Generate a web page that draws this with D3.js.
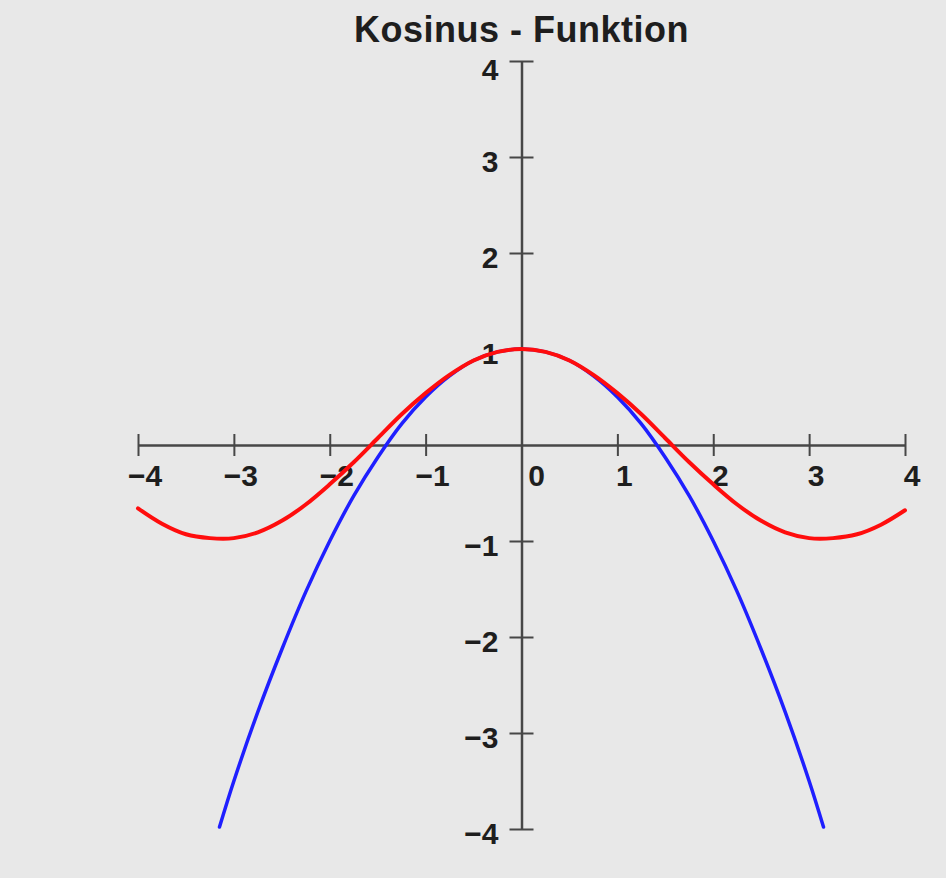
<!DOCTYPE html>
<html>
<head>
<meta charset="utf-8">
<script src="https://cdn.jsdelivr.net/npm/d3@7"></script>
<style>
	html, body { margin: 0; padding: 0; background: #e8e8e8; }
	svg { display: block; }
</style>
</head>
<body>
<div id="chart"></div>
<script>
// values

var TITLE = "Kosinus - Funktion";

var X_TICKS = [-4, -3, -2, -1, 0, 1, 2, 3, 4];
var Y_TICKS = [-4, -3, -2, -1, 1, 2, 3, 4];

// red curve (cosine)
var cos_x = [-4, -3.75, -3.5, -3.25, -3, -2.75, -2.5, -2.25, -2, -1.75, -1.5, -1.25, -1, -0.75, -0.5, -0.25,
	0, 0.25, 0.5, 0.75, 1, 1.25, 1.5, 1.75, 2, 2.25, 2.5, 2.75, 3, 3.25, 3.5, 3.75, 4];
var cos_y = [-0.66, -0.82, -0.93, -0.97, -0.97, -0.91, -0.79, -0.62, -0.41, -0.18, 0.07, 0.32, 0.54, 0.73, 0.88, 0.97,
	1, 0.97, 0.88, 0.73, 0.54, 0.32, 0.07, -0.18, -0.41, -0.62, -0.79, -0.91, -0.97, -0.97, -0.93, -0.83, -0.68];

// blue curve (parabola approximation)
var par_x = [-3.15, -3, -2.75, -2.5, -2.25, -2, -1.75, -1.5, -1.25, -1, -0.75, -0.5, -0.25,
	0, 0.25, 0.5, 0.75, 1, 1.25, 1.5, 1.75, 2, 2.25, 2.5, 2.75, 3, 3.15];
var par_y = [-3.98, -3.5, -2.78, -2.13, -1.53, -1.0, -0.53, -0.13, 0.22, 0.5, 0.72, 0.88, 0.97,
	1, 0.97, 0.88, 0.72, 0.5, 0.22, -0.13, -0.53, -1.0, -1.53, -2.13, -2.78, -3.5, -3.98];

var width = 946,
	height = 878,
	AXIS_COLOR = "#474747",
	TEXT_COLOR = "#1e1e1e",
	FONT = "'Liberation Sans', Arial, sans-serif";

var svg = d3.select("#chart").append("svg")
	.attr("width", width)
	.attr("height", height);

svg.append("rect")
	.attr("width", width)
	.attr("height", height)
	.style("fill", "#e8e8e8");

var x = d3.scaleLinear().domain([-4, 4]).range([138, 905]);
var y = d3.scaleLinear().domain([-4, 4]).range([829, 61]);

// title
svg.append("text")
	.attr("x", x(0))
	.attr("y", 42)
	.text(TITLE)
	.style("fill", TEXT_COLOR)
	.style("font-family", FONT)
	.style("font-weight", "bold")
	.style("font-size", "36px")
	.style("letter-spacing", "0.5px")
	.style("text-anchor", "middle");

// x axis
var xAxis = svg.append("g")
	.attr("transform", "translate(0," + y(0) + ")")
	.call(d3.axisBottom(x).tickValues(X_TICKS).tickSizeOuter(0).tickFormat(""));

xAxis.select(".domain").style("stroke", AXIS_COLOR).style("stroke-width", 2.5);
xAxis.selectAll(".tick line")
	.attr("y1", -11)
	.attr("y2", 11)
	.style("stroke", AXIS_COLOR)
	.style("stroke-width", 2);

svg.append("g").selectAll("text")
	.data(X_TICKS)
	.enter()
	.append("text")
	.attr("x", function(d) { return x(d) + (d == 0 ? 15 : 7); })
	.attr("y", y(0) + 41)
	.text(function(d) { return d < 0 ? "\u2212" + Math.abs(d) : d; })
	.style("fill", TEXT_COLOR)
	.style("font-family", FONT)
	.style("font-weight", "bold")
	.style("font-size", "30px")
	.style("text-anchor", "middle");

// y axis
var yAxis = svg.append("g")
	.attr("transform", "translate(" + x(0) + ",0)")
	.call(d3.axisLeft(y).tickValues(Y_TICKS).tickSizeOuter(0).tickFormat(""));

yAxis.select(".domain").style("stroke", AXIS_COLOR).style("stroke-width", 2.5);
yAxis.selectAll(".tick line")
	.attr("x1", -12)
	.attr("x2", 12)
	.style("stroke", AXIS_COLOR)
	.style("stroke-width", 2);

svg.append("g").selectAll("text")
	.data(Y_TICKS)
	.enter()
	.append("text")
	.attr("x", x(0) - 23)
	.attr("y", function(d) { return y(d) + (d == 4 ? 19 : 15); })
	.text(function(d) { return d < 0 ? "\u2212" + Math.abs(d) : d; })
	.style("fill", TEXT_COLOR)
	.style("font-family", FONT)
	.style("font-weight", "bold")
	.style("font-size", "30px")
	.style("text-anchor", "end");

// curves
var line = d3.line()
	.x(function(d) { return x(d[0]); })
	.y(function(d) { return y(d[1]); })
	.curve(d3.curveCatmullRom);

svg.append("path")
	.attr("d", line(d3.zip(par_x, par_y)))
	.style("fill", "none")
	.style("stroke", "#1f1fff")
	.style("stroke-width", 3.5)
	.style("stroke-linecap", "round");

svg.append("path")
	.attr("d", line(d3.zip(cos_x, cos_y)))
	.style("fill", "none")
	.style("stroke", "#ff0d0d")
	.style("stroke-width", 4)
	.style("stroke-linecap", "round");
</script>
</body>
</html>
